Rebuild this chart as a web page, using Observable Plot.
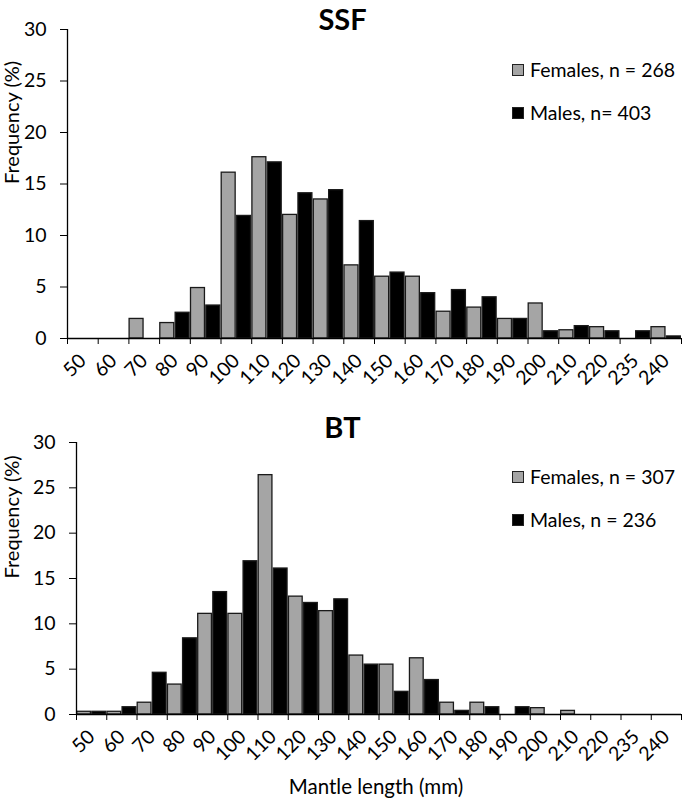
<!DOCTYPE html>
<html>
<head>
<meta charset="utf-8">
<script src="https://cdn.jsdelivr.net/npm/d3@7"></script>
<script src="https://cdn.jsdelivr.net/npm/@observablehq/plot@0.6"></script>
<style>
  body { margin: 0; background: #fff; font-family: Lato, "Open Sans", sans-serif; }
  #wrap { position: relative; width: 685px; height: 798px; overflow: hidden; }
  .abs { position: absolute; white-space: nowrap; color: #000; }
  .title { left: 0; width: 685px; text-align: center; font-weight: bold; font-size: 29px; line-height: 1; }
  .leg { font-size: 19.5px; line-height: 1; display: flex; align-items: center; }
  .sw { width: 10px; height: 10px; border: 1px solid #222; margin-right: 6px; }
</style>
</head>
<body>
<div id="wrap"></div>
<script>
// clases de longitud del manto (mm)
const cats = ["50","60","70","80","90","100","110","120","130","140","150","160","170","180","190","200","210","220","235","240"];

// SSF, frecuencia (%)
const ssfFemales = [0, 0, 1.9, 1.5, 4.9, 16.1, 17.6, 12.0, 13.5, 7.1, 6.0, 6.0, 2.6, 3.0, 1.9, 3.4, 0.8, 1.1, 0, 1.1];
const ssfMales   = [0, 0, 0, 2.5, 3.2, 11.9, 17.1, 14.1, 14.4, 11.4, 6.4, 4.4, 4.7, 4.0, 1.9, 0.7, 1.2, 0.7, 0.7, 0.2];

// BT, frecuencia (%)
const btFemales = [0.3, 0.3, 1.3, 3.3, 11.1, 11.1, 26.4, 13.0, 11.4, 6.5, 5.5, 6.2, 1.3, 1.3, 0, 0.7, 0.4, 0, 0, 0];
const btMales   = [0.3, 0.8, 4.6, 8.4, 13.5, 16.9, 16.1, 12.3, 12.7, 5.5, 2.5, 3.8, 0.4, 0.8, 0.8, 0, 0, 0, 0, 0];

const yTicks = [0, 5, 10, 15, 20, 25, 30];

function panel(females, males, opts) {
  let rows = [];
  cats.forEach((c, i) => {
    rows.push({i, sex: "Females", v: females[i]});
    rows.push({i, sex: "Males", v: males[i]});
  });
  rows = rows.filter(d => d.v > 0); // Excel no dibuja las barras en cero

  return Plot.plot({
    width: 685,
    height: opts.height,
    marginTop: opts.marginTop,
    marginBottom: opts.marginBottom,
    marginLeft: opts.marginLeft,
    marginRight: 4,
    style: {fontFamily: "Lato", fontSize: "19.5px", color: "#000", background: "#fff", overflow: "visible"},
    x: {domain: [0, cats.length], axis: null},
    y: {domain: [0, 30], axis: null},
    color: {domain: ["Females", "Males"], range: ["#a5a5a5", "#000"]},
    marks: [
      Plot.rect(rows, {
        x1: d => d.i + (d.sex === "Females" ? 0 : 0.5),
        x2: d => d.i + (d.sex === "Females" ? 0.5 : 1),
        y1: 0,
        y2: "v",
        fill: "sex",
        stroke: "#1a1a1a",
        strokeWidth: 1.3,
        insetLeft: 0.7,
        insetRight: 0.7
      }),
      Plot.axisY({ticks: yTicks, tickSize: 7, tickPadding: 14, label: null, stroke: "#000"}),
      Plot.ruleX([0], {y1: 0, y2: 30, stroke: "#000", strokeWidth: 1.3}),
      Plot.ruleY([0], {stroke: "#000", strokeWidth: 1.3}),
      Plot.axisX({ticks: d3.range(0, cats.length + 1), tickSize: 6, tickFormat: () => "", label: null, stroke: "#000"}),
      Plot.axisX({
        ticks: cats.map((c, i) => i + 0.5),
        tickSize: 0,
        tickPadding: 19,
        tickRotate: -45,
        tickFormat: t => cats[Math.floor(t)],
        label: null
      }),
      Plot.text(["Frequency (%)"], {frameAnchor: "left", dx: -(opts.marginLeft - 12), rotate: -90, fontSize: 20})
    ]
  });
}

const wrap = d3.select("#wrap");

const top1 = panel(ssfFemales, ssfMales, {height: 400, marginTop: 29, marginBottom: 62, marginLeft: 67});
const top2 = panel(btFemales, btMales, {height: 398, marginTop: 42, marginBottom: 84, marginLeft: 76});

wrap.append("div").attr("class", "abs").style("left", "0px").style("top", "0px").append(() => top1);
wrap.append("div").attr("class", "abs").style("left", "0px").style("top", "400px").append(() => top2);

function title(text, top) {
  wrap.append("div").attr("class", "abs title").style("top", top + "px").text(text);
}
title("SSF", 4);
title("BT", 412);

function legend(items, left, top) {
  items.forEach((it, k) => {
    const row = wrap.append("div").attr("class", "abs leg")
      .style("left", left + "px").style("top", (top + k * 43) + "px");
    row.append("div").attr("class", "sw").style("background", it.color);
    row.append("span").text(it.label);
  });
}
legend([{label: "Females, n = 268", color: "#a5a5a5"}, {label: "Males, n= 403", color: "#000"}], 512, 60);
legend([{label: "Females, n = 307", color: "#a5a5a5"}, {label: "Males, n = 236", color: "#000"}], 512, 467);

wrap.append("div").attr("class", "abs").style("left", "0px").style("width", "752px")
  .style("text-align", "center").style("top", "774px").style("font-size", "20.5px")
  .text("Mantle length (mm)");
</script>
</body>
</html>
